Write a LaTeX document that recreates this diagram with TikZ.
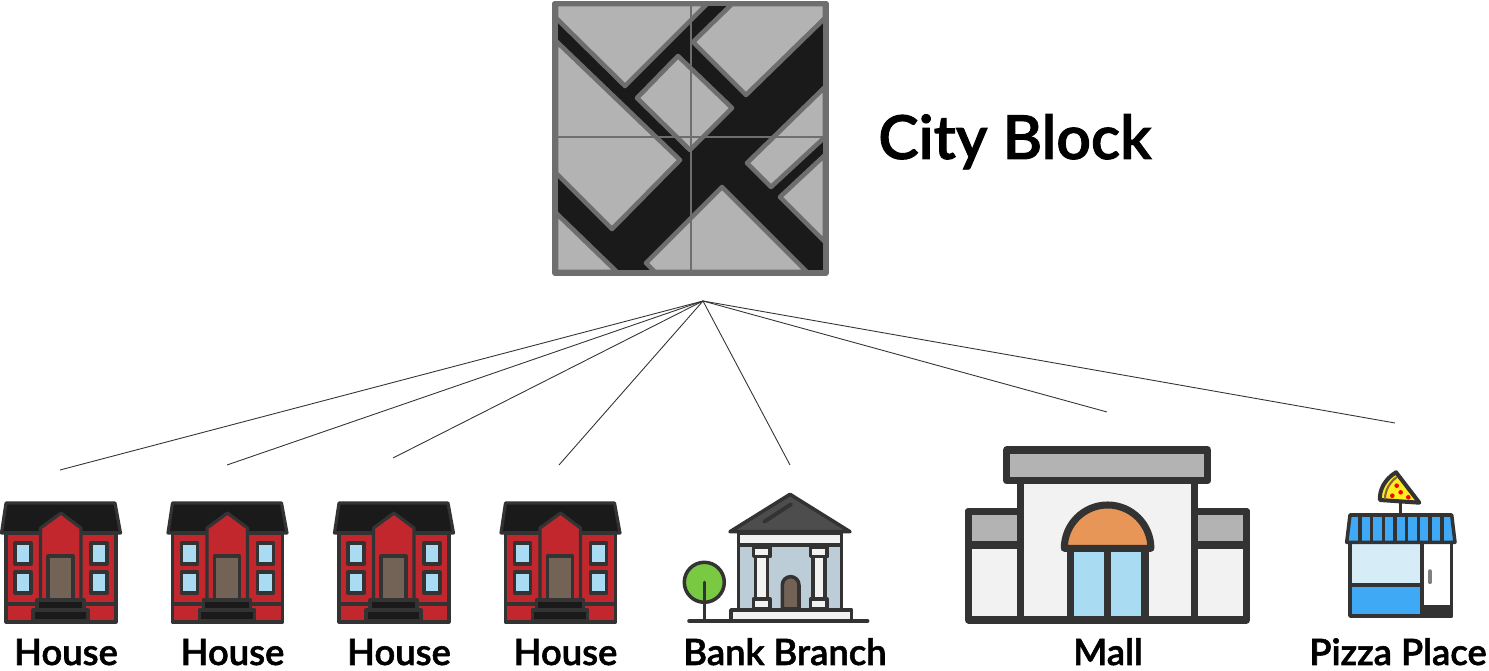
\documentclass[tikz,border=0pt]{standalone}
\usepackage{fontspec}
\setmainfont{Lato Semibold}[FakeBold=1.5]
\usepackage{tikz}
\usetikzlibrary{positioning,calc}

\definecolor{dark}{HTML}{333333}
\definecolor{roofblack}{HTML}{1A1A1A}
\definecolor{lotgray}{HTML}{B3B3B3}
\definecolor{curbgray}{HTML}{6E6E6E}
\definecolor{brick}{HTML}{C1272D}
\definecolor{glass}{HTML}{A9DCF3}
\definecolor{wood}{HTML}{736357}
\definecolor{wall}{HTML}{F2F2F2}
\definecolor{awning}{HTML}{3FA9F5}
\definecolor{bankwall}{HTML}{BCCDD8}
\definecolor{bankroof}{HTML}{4D4D4D}
\definecolor{treegreen}{HTML}{7AC943}
\definecolor{archorange}{HTML}{E89558}
\definecolor{paleglass}{HTML}{D6EDF8}
\definecolor{cheese}{HTML}{FCEE21}
\definecolor{crust}{HTML}{8C6239}

\tikzset{
    outline/.style={draw=dark, line width=#1, line join=round, line cap=round},
    outline/.default=2pt,
    lot/.style={draw=curbgray, fill=lotgray, line width=2.6pt, line join=round},
    street/.style={draw=curbgray, line width=1.2pt},
    spoke/.style={draw=dark, line width=0.5pt},
    caption/.style={anchor=base, font=\fontsize{20.7}{24}\selectfont, inner sep=0pt},
    house/.pic={
        \path[outline=1.8pt, fill=roofblack] (6,503) -- (115,503) -- (120.5,533) -- (1.5,533) -- cycle;
        \path[outline=1.8pt, fill=brick] (6,533) rectangle (116,622);
        \path[outline=1.8pt, fill=brick] (40.5,528) -- (61,513) -- (81,528) -- (81,600) -- (40.5,600) -- cycle;
        \foreach \wx in {15,91} {
            \foreach \wy in {543,572} {
                \path[outline=1.8pt, fill=glass] (\wx,\wy) rectangle ++(16,21);
            }
        }
        \path[outline=1.8pt, fill=wood] (48,556) rectangle (73,600);
        \path[outline=1.8pt] (6,604) -- (116,604);
        \path[outline=1.8pt, fill=roofblack] (37,600) rectangle (84,610);
        \path[outline=1.8pt, fill=roofblack] (33,610) rectangle (88,621);
    }
}

\begin{document}
\begin{tikzpicture}[x=0.02cm, y=-0.02cm]

    \useasboundingbox (0,0) rectangle (1489,671);

    % city block
    \fill[roofblack] (554,3) rectangle (826,273);
    \path[lot] (556,4) -- (707,4) -- (625,86) -- (556,18) -- cycle;
    \path[lot] (732,4) -- (825,4) -- (825,18) -- (746,95) -- (693,42) -- cycle;
    \path[lot] (678,56) -- (732,108) -- (690,150) -- (637,98) -- cycle;
    \path[lot] (556,41) -- (680,160) -- (612,229) -- (556,173) -- cycle;
    \path[lot] (825,87) -- (747,163) -- (771,187) -- (825,137) -- cycle;
    \path[lot] (780,197) -- (825,242) -- (825,155) -- cycle;
    \path[lot] (722,187) -- (807,272) -- (655,272) -- (646,263) -- cycle;
    \path[lot] (556,213) -- (617,272) -- (556,272) -- cycle;
    \fill[curbgray] (552,13) rectangle (558,37);
    \fill[curbgray] (824,130) rectangle (829,152);
    \path[street] (690.7,3) -- (690.7,273);
    \path[street] (555,137.3) -- (825,137.3);
    \path[draw=curbgray, line width=3.2pt, line join=round] (555,3.5) rectangle (826,273);

    \node[anchor=base west, font=\fontsize{34.5}{44}\selectfont, inner sep=0pt] (title) at (878,159) {City Block};

    % spokes from the block
    \coordinate (apex) at (703,301);
    \foreach \name/\x/\y in {a/60/470, b/227/465, c/393/458, d/559/465, e/790/465, f/1107/412, g/1395/423} {
        \coordinate (end\name) at (\x,\y);
        \path[spoke] (apex) -- (end\name);
    }

    % houses
    \foreach \i/\x in {1/0, 2/166.5, 3/333, 4/499.5} {
        \pic at (\x,0) {house};
        \node[caption] (house\i) at ({66+\x},665) {House};
    }

    % bank
    \path[outline, fill=wall] (738.3,533) rectangle (841.7,545);
    \path[outline, fill=bankwall] (738.3,545) rectangle (841.7,610);
    \path[outline, fill=bankroof] (790,494.3) -- (850,531.7) -- (730,531.7) -- cycle;
    \path[outline=2.2pt] (764.3,521.7) -- (791,504.3);
    \foreach \cx in {761.6,818.9} {
        \path[outline, fill=wall] ({\cx-6},556.7) rectangle ({\cx+6},599);
        \path[outline, fill=wall] ({\cx-8.3},547) rectangle ({\cx+8.3},556.7);
        \path[outline, fill=wall] ({\cx-8.3},599) rectangle ({\cx+8.3},609);
    }
    \path[outline, fill=wood] (782.3,609) -- (782.3,585) arc[start angle=180, end angle=360, radius=8.35] -- (799,609) -- cycle;
    \path[outline, fill=wall] (731,610) rectangle (851.7,621);
    \path[outline, fill=treegreen] (704.3,582.3) circle (20);
    \path[outline] (704.3,582.3) -- (704.3,620);
    \path[outline] (689,621) -- (867.7,621);
    \node[caption] (bank) at (785,665) {Bank Branch};

    % mall
    \path[outline=4pt, fill=wall] (1020.7,480.7) rectangle (1194.3,620);
    \path[outline=4pt, fill=wall] (968.3,511.7) rectangle (1020.7,620);
    \path[outline=4pt, fill=wall] (1194.3,511.7) rectangle (1246.7,620);
    \path[outline=4pt, fill=lotgray] (968.3,511.7) rectangle (1020.7,545);
    \path[outline=4pt, fill=lotgray] (1194.3,511.7) rectangle (1246.7,545);
    \path[outline=4pt, fill=lotgray] (1006.7,450) rectangle (1207.7,480.7);
    \path[outline=4pt, fill=glass] (1070.3,548) rectangle (1145,620);
    \path[outline=4pt] (1107.7,548) -- (1107.7,620);
    \path[outline=4pt, fill=archorange] (1064.3,548.3) arc[start angle=180, end angle=360, radius=43.3] -- cycle;
    \node[caption] (mall) at (1108,665) {Mall};

    % pizza place
    \path[outline] (1400.7,503.3) -- (1400.7,515);
    \path[outline, fill=white] (1350,542.3) rectangle (1451.7,616);
    \fill[paleglass] (1352,544) rectangle (1422,585);
    \fill[awning] (1352,587) rectangle (1422,614);
    \path[outline] (1350,585) -- (1422,585);
    \path[outline] (1422,542.3) -- (1422,616);
    \fill[dark] (1422,605) rectangle (1451.7,616);
    \path[draw=gray, line width=2pt, line cap=round] (1430,571) -- (1430,582.3);
    \path[outline, fill=awning] (1350,515) -- (1451.7,515) -- (1455,542.3) -- (1346.7,542.3) -- cycle;
    \foreach \sx in {1360,1371.7,1383.3,1395,1406.7,1418.3,1430,1442} {
        \path[outline] (\sx,515) -- (\sx,542.3);
    }
    \path[outline=2.3pt, fill=cheese] (1396,472.3) -- (1419.3,502.7) -- (1380,500) .. controls (1379,490) and (1385,479) .. (1396,472.3);
    \path[draw=crust, line width=1.2pt] (1385,499) .. controls (1385,490) and (1390,482) .. (1397,477);
    \foreach \px/\py in {1396.7/485.7, 1400.7/492.3, 1392.3/495.7, 1408.3/497.3} {
        \fill[red] (\px,\py) circle (2.3);
    }
    \node[caption] (pizza) at (1398,665) {Pizza Place};

\end{tikzpicture}
\end{document}
